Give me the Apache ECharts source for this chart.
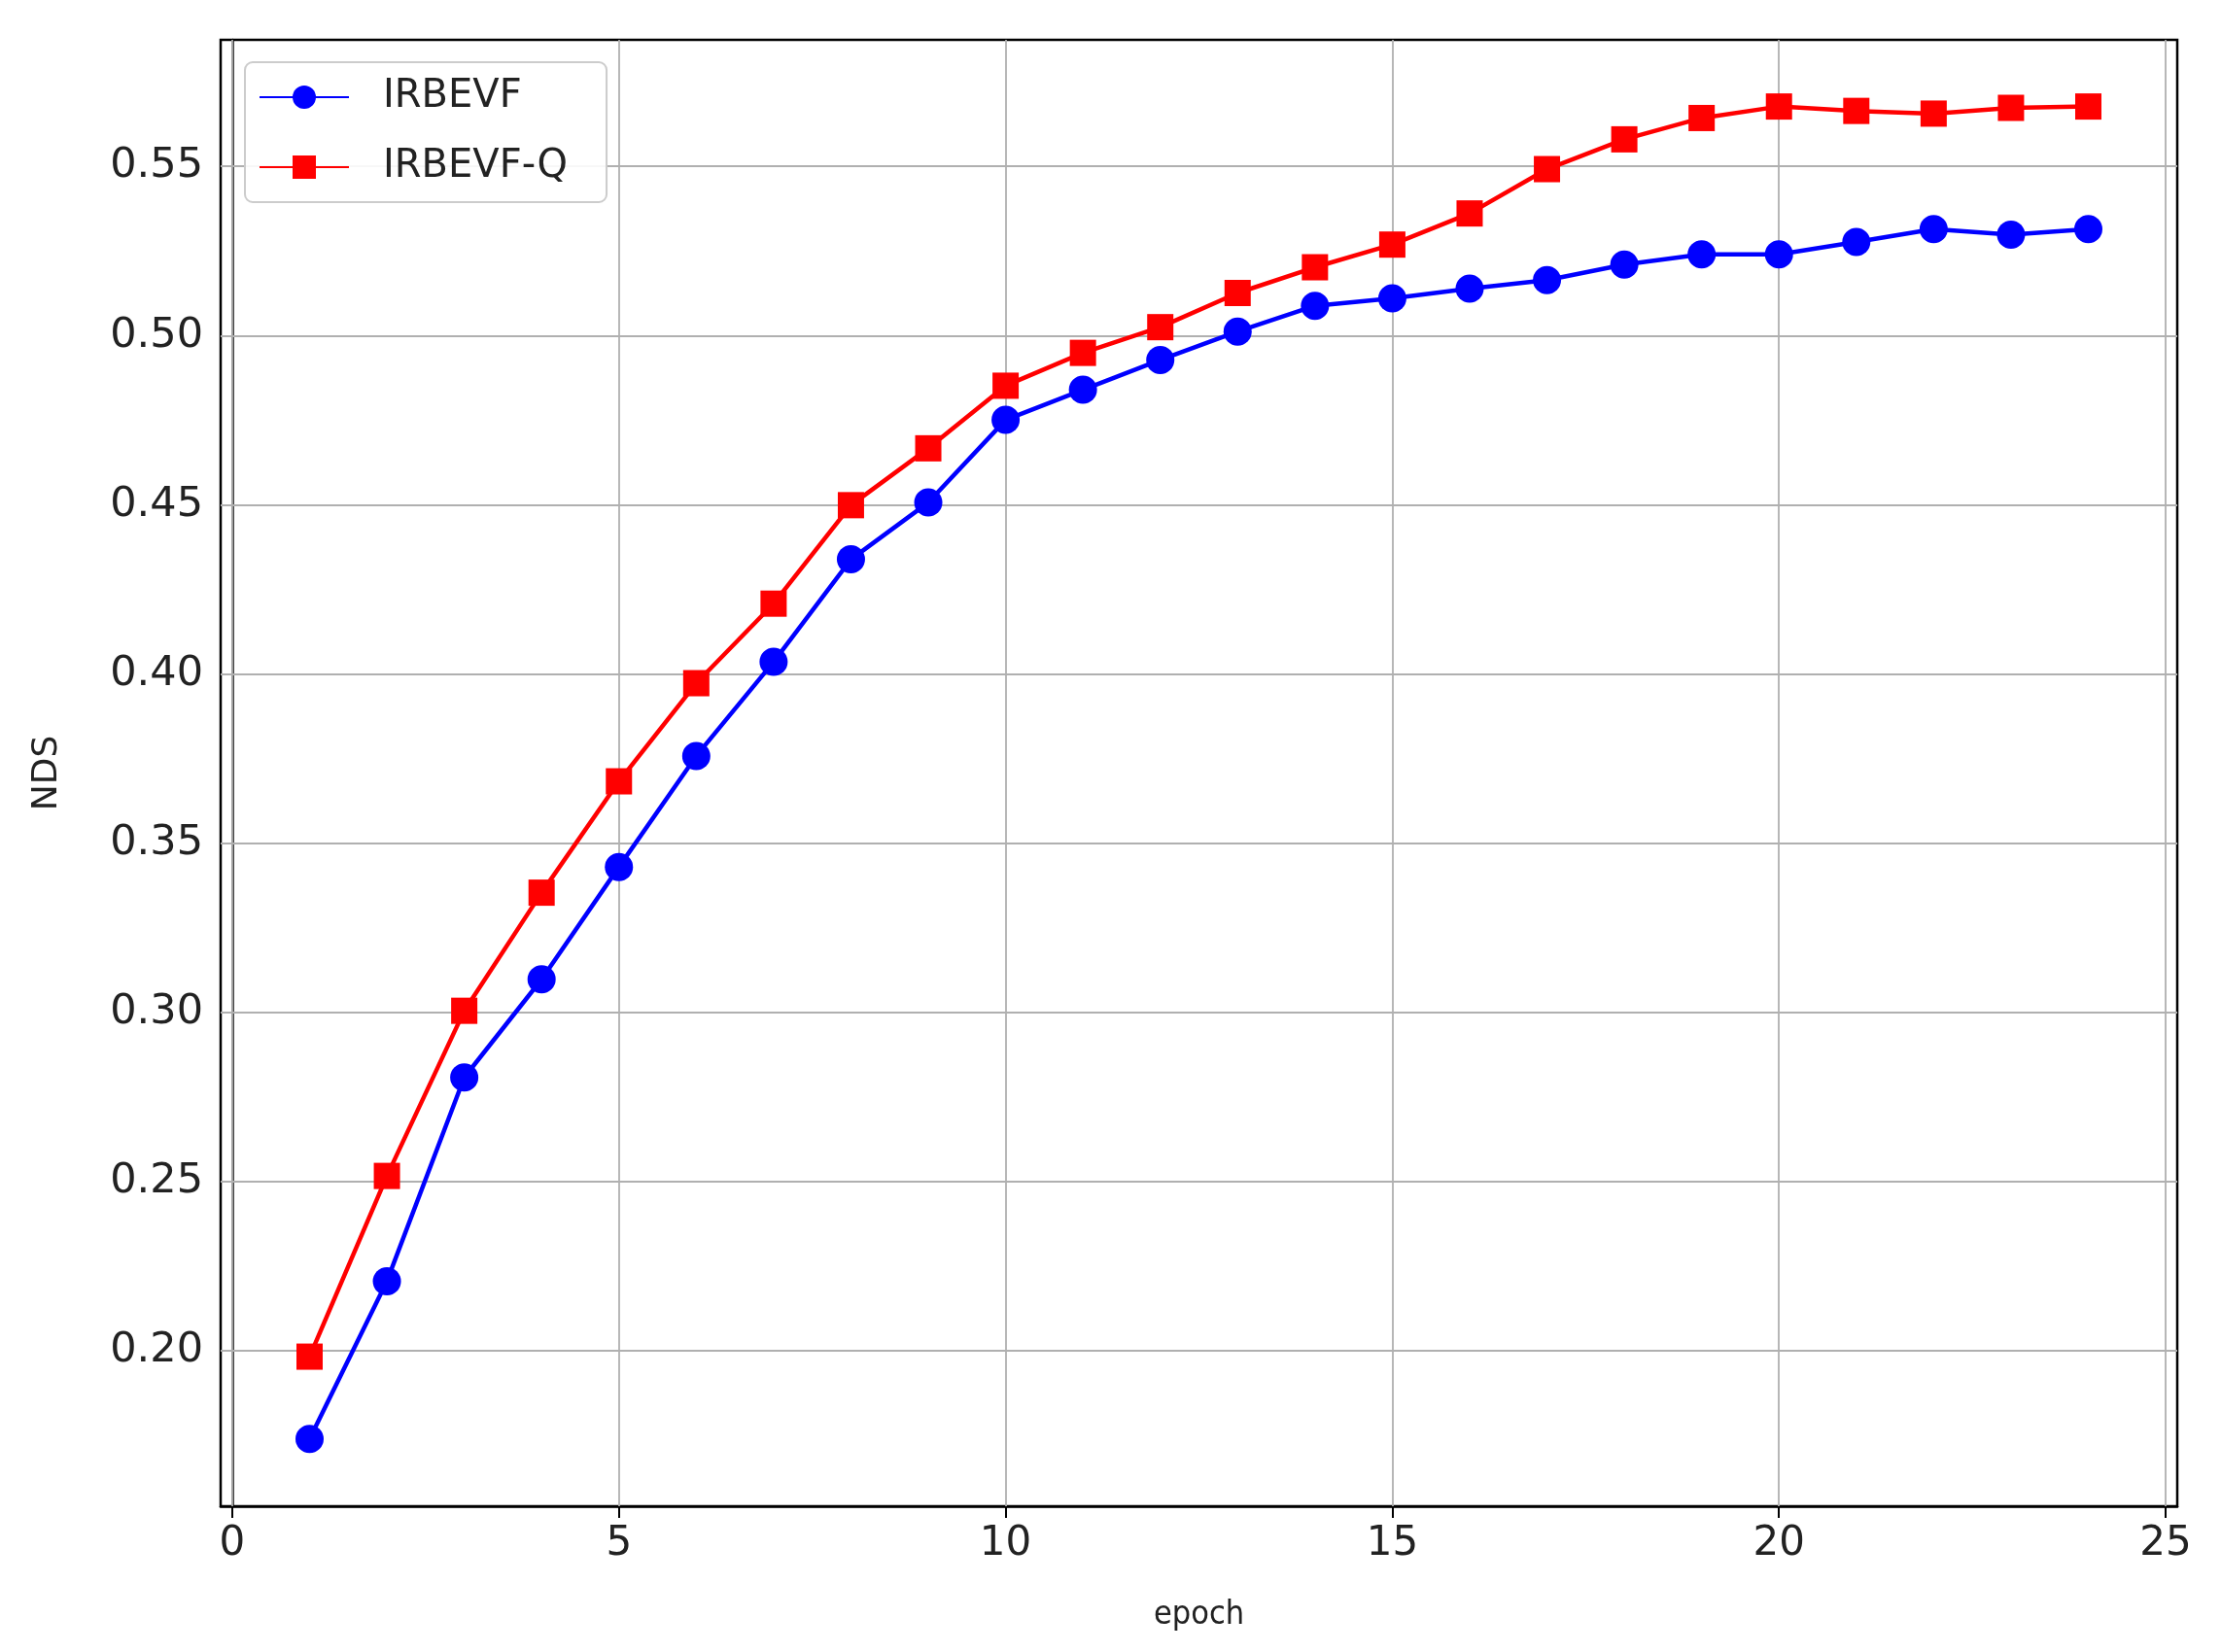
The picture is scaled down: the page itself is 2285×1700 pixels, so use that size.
<!DOCTYPE html>
<html><head><meta charset="utf-8">
<script src="https://cdn.jsdelivr.net/npm/echarts@6/dist/echarts.min.js"></script>
<style>html,body{margin:0;padding:0;background:#fff}#c{width:2285px;height:1700px}</style>
</head><body><div id="c"></div>
<script>
const epochs = [1,2,3,4,5,6,7,8,9,10,11,12,13,14,15,16,17,18,19,20,21,22,23,24];
const irbevf = [0.174,0.2206,0.2808,0.3098,0.343,0.3758,0.4036,0.4339,0.4507,0.4751,0.484,0.4928,0.5012,0.5088,0.511,0.5139,0.5164,0.521,0.524,0.524,0.5277,0.5315,0.5298,0.5315];
const irbevfQ = [0.1983,0.2517,0.3005,0.3354,0.3683,0.3973,0.4208,0.4499,0.4667,0.4852,0.4949,0.5025,0.5126,0.5202,0.5269,0.5361,0.5492,0.558,0.5643,0.5677,0.5664,0.5656,0.5673,0.5677];
const xTicks = [0,5,10,15,20,25];
const yTicks = [0.20,0.25,0.30,0.35,0.40,0.45,0.50,0.55];

const chart = echarts.init(document.getElementById('c'));
const gridLine = {color:'#b0b0b0', width:1.8, type:'solid'};
const marks = xTicks.map(v=>({xAxis:v})).concat(yTicks.map(v=>({yAxis:v})));
chart.setOption({
  animation:false,
  backgroundColor:'#fff',
  grid:{left:227,right:45,top:41,bottom:150,show:true,borderColor:'#000',borderWidth:2.5,backgroundColor:'transparent'},
  legend:{orient:'vertical',left:252,top:64,padding:[16,40,16,14],itemGap:32,itemWidth:92,itemHeight:30,
    borderColor:'#cccccc',borderWidth:2,borderRadius:8,backgroundColor:'rgba(255,255,255,0.9)',
    textStyle:{fontSize:40,fontFamily:'DejaVu Sans',color:'#222',padding:[0,0,0,30]},
    data:['IRBEVF','IRBEVF-Q']},
  xAxis:{type:'value',min:-0.15,max:25.15,
    name:'epoch',nameLocation:'middle',nameGap:95,
    nameTextStyle:{fontSize:34,fontFamily:'Liberation Sans Narrow, DejaVu Sans Condensed, sans-serif',color:'#222'},
    axisLine:{show:true,onZero:false,lineStyle:{color:'#000',width:2.5}},
    axisTick:{show:true,customValues:xTicks,length:12,lineStyle:{color:'#000',width:2}},
    axisLabel:{customValues:xTicks,fontSize:42,fontFamily:'DejaVu Sans',color:'#222',margin:18},
    splitLine:{show:false}},
  yAxis:{type:'value',min:0.1541,max:0.5874,
    name:'NDS',nameLocation:'middle',nameGap:160,
    nameTextStyle:{fontSize:36,fontFamily:'DejaVu Sans',color:'#222'},
    axisLine:{show:true,lineStyle:{color:'#000',width:2.5}},
    axisTick:{show:true,customValues:yTicks,length:12,lineStyle:{color:'#000',width:2}},
    axisLabel:{customValues:yTicks,fontSize:43,fontFamily:'DejaVu Sans',color:'#222',margin:18,formatter:v=>v.toFixed(2)},
    splitLine:{show:false}},
  series:[
    {name:'IRBEVF',type:'line',data:epochs.map((e,i)=>[e,irbevf[i]]),z:3,
     symbol:'circle',symbolSize:29,lineStyle:{color:'#0000ff',width:4.5},itemStyle:{color:'#0000ff'},
     markLine:{silent:true,symbol:'none',label:{show:false},lineStyle:gridLine,data:marks,z:1}},
    {name:'IRBEVF-Q',type:'line',data:epochs.map((e,i)=>[e,irbevfQ[i]]),z:4,
     symbol:'rect',symbolSize:27,lineStyle:{color:'#ff0000',width:4.5},itemStyle:{color:'#ff0000'}}
  ]
});
</script></body></html>
